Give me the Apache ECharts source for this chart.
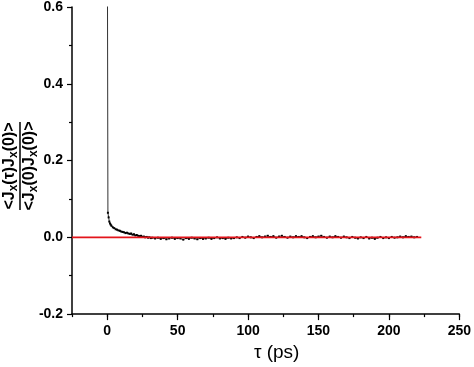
<!DOCTYPE html>
<html>
<head>
<meta charset="utf-8">
<script src="https://cdn.jsdelivr.net/npm/echarts@6/dist/echarts.min.js"></script>
<style>
  html, body { margin: 0; padding: 0; background: #fff; }
  #main { width: 474px; height: 367px; }
</style>
</head>
<body>
<div id="main"></div>
<script>
var myChart = echarts.init(document.getElementById('main'));

// current autocorrelation, normalised (tau in ps, value)
var corrData = [
    [0, 1.0], [0.5, 0.064], [1, 0.052], [1.5, 0.041], [2, 0.036], [2.5, 0.033],
    [3, 0.030], [4, 0.026], [5, 0.024], [6, 0.021], [7, 0.020], [8, 0.018],
    [9, 0.017], [10, 0.015], [11, 0.014], [12, 0.013], [13, 0.011], [14, 0.012],
    [15, 0.010], [16, 0.009], [17, 0.010], [18, 0.007], [19, 0.008], [20, 0.005],
    [21, 0.006], [22, 0.004], [23, 0.003], [24, 0.004], [25, 0.001], [26, 0.002],
    [27, 0.000], [28, 0.001], [29, -0.001], [30, 0.000], [31, -0.002], [32, -0.001],
    [34, -0.003], [36, -0.001], [38, -0.004], [40, -0.002], [42, -0.005], [44, -0.003],
    [46, -0.001], [48, -0.004], [50, -0.002], [52, -0.003], [54, -0.006], [56, -0.002],
    [58, -0.004], [60, -0.001], [62, -0.003], [64, -0.005], [66, -0.002], [68, -0.004],
    [70, -0.003], [72, -0.001], [74, -0.004], [76, -0.002], [78, 0.000], [80, -0.003],
    [82, -0.002], [84, -0.004], [86, -0.001], [88, -0.003], [90, -0.002], [92, 0.000],
    [94, -0.002], [96, 0.001], [98, -0.001], [100, 0.002], [102, 0.000], [104, -0.002],
    [106, 0.001], [108, 0.003], [110, 0.000], [112, 0.002], [114, 0.004], [116, 0.001],
    [118, 0.003], [120, -0.001], [122, 0.002], [124, 0.004], [126, 0.001], [128, -0.001],
    [130, 0.002], [132, 0.000], [134, 0.003], [136, 0.001], [138, 0.003], [140, 0.000],
    [142, -0.002], [144, 0.001], [146, 0.003], [148, 0.000], [150, 0.002], [152, 0.004],
    [154, 0.001], [156, -0.001], [158, 0.002], [160, 0.000], [162, 0.003], [164, 0.001],
    [166, -0.001], [168, 0.002], [170, 0.000], [172, -0.002], [174, 0.001], [176, -0.001],
    [178, -0.003], [180, 0.000], [182, -0.002], [184, 0.001], [186, -0.003], [188, -0.001],
    [190, -0.004], [192, -0.001], [194, 0.001], [196, -0.002], [198, 0.000], [200, -0.002],
    [202, 0.001], [204, -0.001], [206, 0.000], [208, 0.002], [210, 0.000], [212, 0.003],
    [214, 0.001], [216, 0.002], [218, 0.000], [220, 0.001]
];
// zero reference line
var zeroLine = [[-25, 0], [223, 0]];
var xMajorTicks = [0, 50, 100, 150, 200, 250];

var fontFam = '"Liberation Sans", Arial, sans-serif';
var fracRich = {
    m: { fontSize: 16, fontWeight: 'bold', fontFamily: fontFam, fill: '#000' },
    s: { fontSize: 12, fontWeight: 'bold', fontFamily: fontFam, fill: '#000', verticalAlign: 'bottom', padding: [7, 0, 0, 0] }
};

option = {
    backgroundColor: '#fff',
    animation: false,
    grid: {
        left: 72,
        right: 13,
        top: 7,
        bottom: 46
    },
    xAxis: [{
        type: 'value',
        min: -25,
        max: 250,
        interval: 25,
        name: 'τ (ps)',
        nameLocation: 'middle',
        nameGap: 25,
        nameTextStyle: {
            color: '#000',
            fontSize: 19,
            fontFamily: fontFam,
            padding: [0, 0, 0, 22]
        },
        splitLine: { show: false },
        axisLine: { onZero: false, lineStyle: { color: '#000', width: 1.5 } },
        axisTick: { length: 3, lineStyle: { color: '#000', width: 1.2 } },
        axisLabel: {
            margin: 10,
            color: '#000',
            fontSize: 14,
            fontWeight: 'bold',
            fontFamily: fontFam,
            formatter: function (v) {
                return v % 50 === 0 ? String(v) : '';
            }
        }
    }, {
        // long ticks at the labelled values
        type: 'value',
        position: 'bottom',
        min: -25,
        max: 250,
        splitLine: { show: false },
        axisLine: { show: false, onZero: false },
        axisTick: {
            length: 6,
            customValues: xMajorTicks,
            lineStyle: { color: '#000', width: 1.2 }
        },
        axisLabel: { show: false }
    }],
    yAxis: {
        type: 'value',
        min: -0.2,
        max: 0.6,
        interval: 0.2,
        splitLine: { show: false },
        axisLine: { show: true, onZero: false, lineStyle: { color: '#000', width: 1.5 } },
        axisTick: { length: 5, lineStyle: { color: '#000', width: 1.2 } },
        minorTick: { show: true, splitNumber: 2, length: 3, lineStyle: { color: '#000', width: 1.2 } },
        axisLabel: {
            margin: 9,
            color: '#000',
            fontSize: 14,
            fontWeight: 'bold',
            fontFamily: fontFam,
            formatter: function (v) { return v.toFixed(1); }
        }
    },
    graphic: [{
        type: 'group',
        x: 20,
        y: 166,
        rotation: Math.PI / 2,
        children: [{
            type: 'text',
            x: 0,
            y: -10,
            style: {
                text: '{m|<J}{s|x}{m|(τ)J}{s|x}{m|(0)>}',
                align: 'center',
                verticalAlign: 'middle',
                rich: fracRich
            }
        }, {
            type: 'line',
            shape: { x1: -44, y1: 0, x2: 44, y2: 0 },
            style: { stroke: '#000', lineWidth: 1.5 }
        }, {
            type: 'text',
            x: 0,
            y: 10,
            style: {
                text: '{m|<J}{s|x}{m|(0)J}{s|x}{m|(0)>}',
                align: 'center',
                verticalAlign: 'middle',
                rich: fracRich
            }
        }]
    }],
    series: [{
        name: 'corr',
        type: 'line',
        data: corrData,
        symbol: 'rect',
        symbolSize: 2,
        showSymbol: true,
        itemStyle: { color: '#000' },
        lineStyle: { color: '#333', width: 1 },
        clip: true,
        z: 2
    }, {
        name: 'zero',
        type: 'line',
        data: zeroLine,
        showSymbol: false,
        lineStyle: { color: '#e3141b', width: 1.6 },
        z: 3
    }]
};

myChart.setOption(option);
</script>
</body>
</html>
